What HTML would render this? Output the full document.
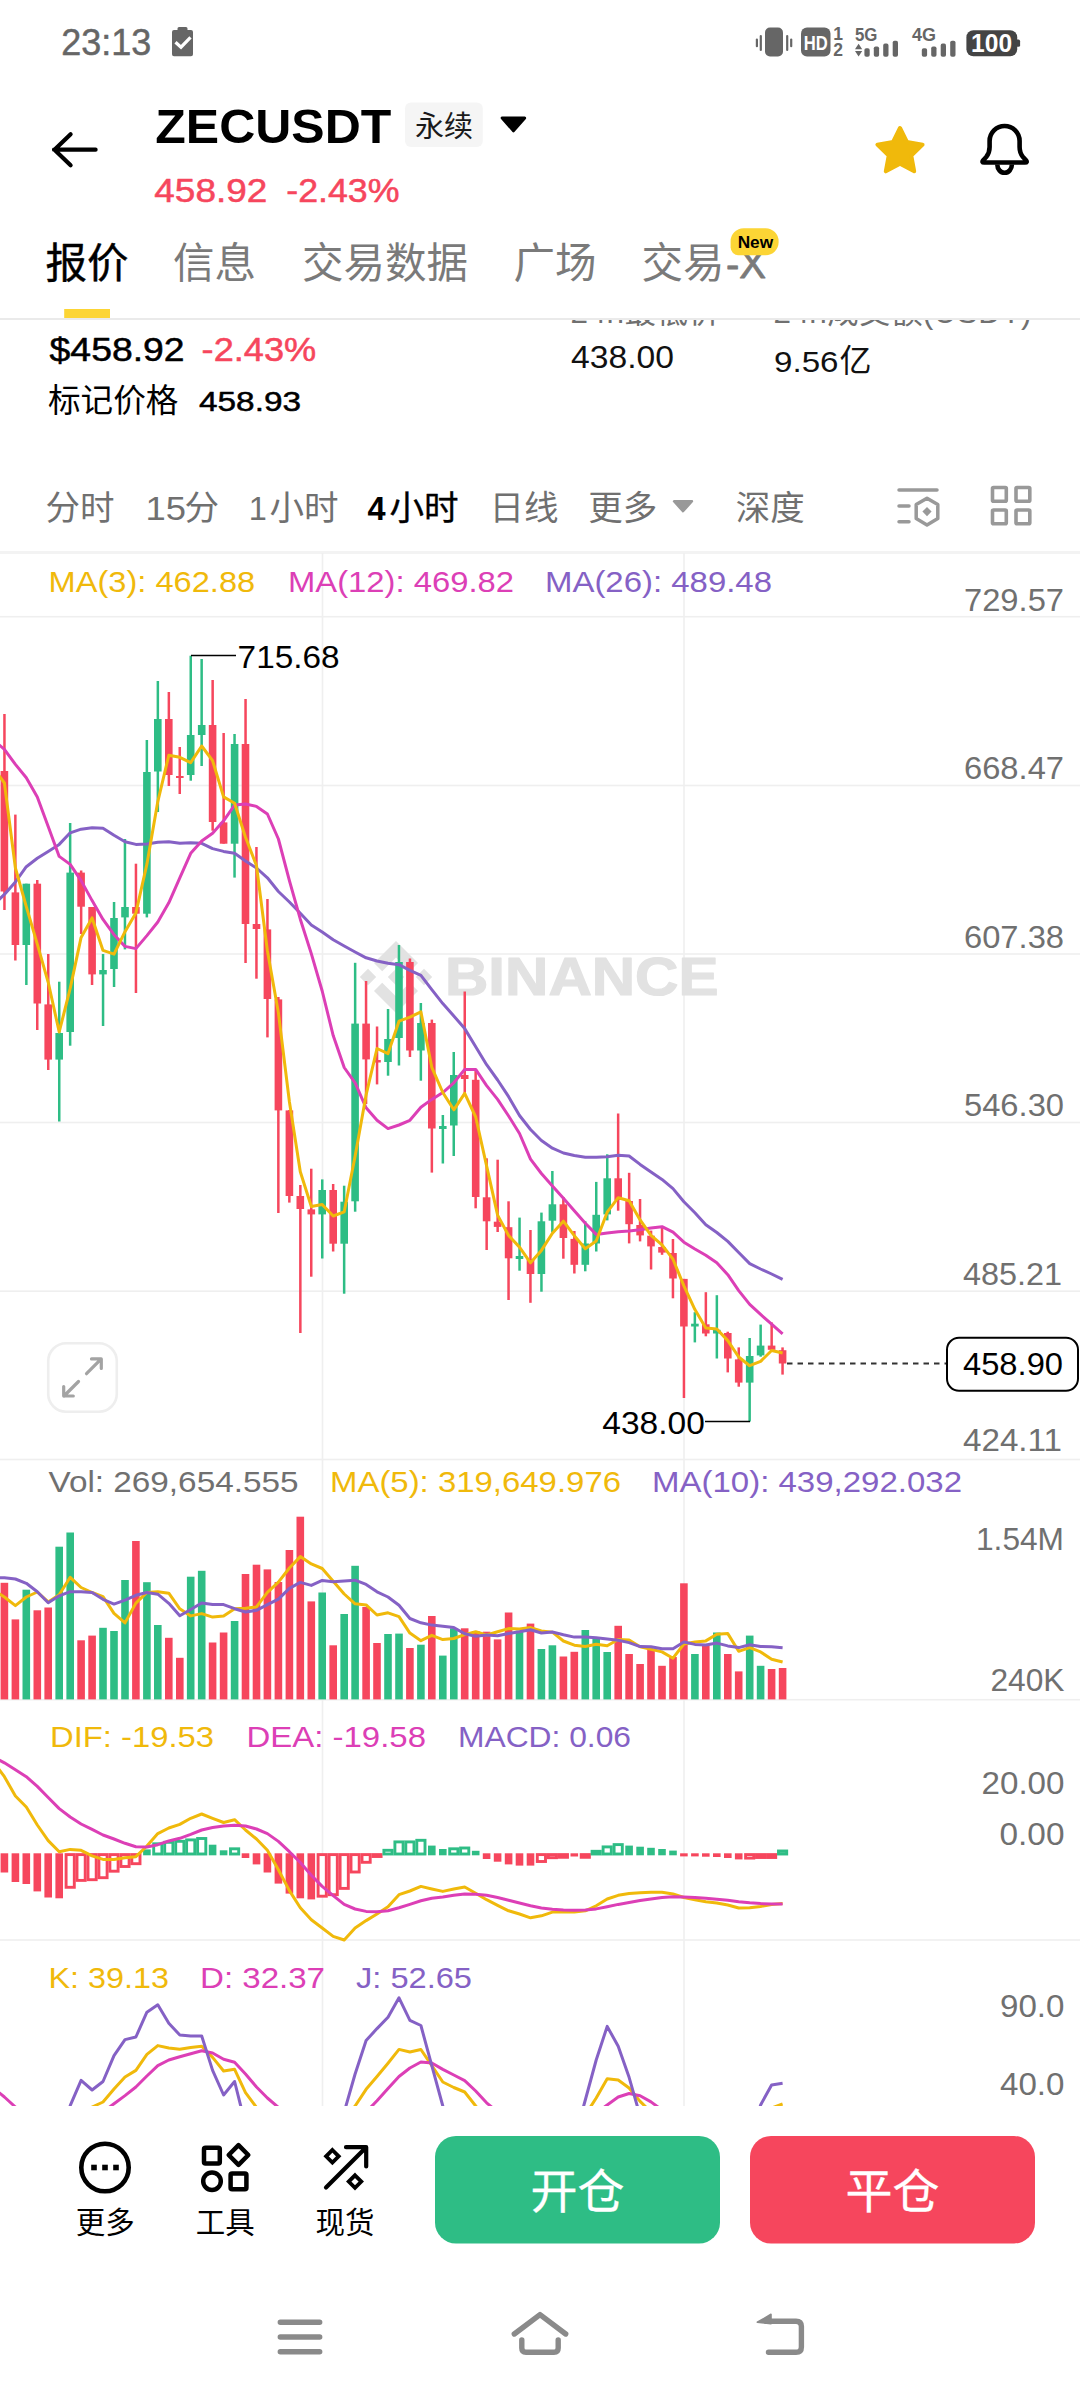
<!DOCTYPE html><html><head><meta charset="utf-8"><title>ZECUSDT</title><style>html,body{margin:0;padding:0;background:#fff}body{width:1080px;height:2400px;overflow:hidden}svg{display:block}text{font-family:"Liberation Sans","Noto Sans CJK SC",sans-serif}</style></head><body>
<svg width="1080" height="2400" viewBox="0 0 1080 2400">
<rect width="1080" height="2400" fill="#fff"/>
<text x="61.3" y="55.4" font-size="37.5" fill="#666" font-weight="400" text-anchor="start" textLength="90" lengthAdjust="spacingAndGlyphs" stroke="#666" stroke-width="0.5" paint-order="stroke" stroke-linejoin="round">23:13</text>
<path d="M172 32 q0-2 2-2 h3.5 v-1.5 q0-1.5 1.5-1.5 h7 q1.5 0 1.5 1.5 v1.5 h3.5 q2 0 2 2 v22.3 q0 2-2 2 h-17 q-2 0-2-2z" fill="#666"/>
<path d="M175.5 42.2 L181 47.2 L190.5 37.4" fill="none" stroke="#fff" stroke-width="3.2"/>
<rect x="765" y="27.5" width="18" height="29" rx="5" fill="#666"/>
<path d="M760.8 36V50" stroke="#666" stroke-width="2.2" stroke-linecap="round"/>
<path d="M756.9 39.6V46.2" stroke="#666" stroke-width="2.2" stroke-linecap="round"/>
<path d="M787.2 36V50" stroke="#666" stroke-width="2.2" stroke-linecap="round"/>
<path d="M791.2 39.6V46.2" stroke="#666" stroke-width="2.2" stroke-linecap="round"/>
<rect x="801" y="27.5" width="29.5" height="29" rx="6" fill="#666"/>
<text x="815.8" y="49.6" font-size="20.5" fill="#fff" font-weight="700" text-anchor="middle" textLength="24" lengthAdjust="spacingAndGlyphs">HD</text>
<text x="838.2" y="40" font-size="17.5" fill="#666" font-weight="700" text-anchor="middle">1</text>
<text x="838.2" y="56.4" font-size="17.5" fill="#666" font-weight="700" text-anchor="middle">2</text>
<text x="855" y="40.8" font-size="17.5" fill="#666" font-weight="700" text-anchor="start" textLength="22.5" lengthAdjust="spacingAndGlyphs">5G</text>
<path d="M855 49.2 l3.6-5.4 l3.6 5.4z M855 51 l3.6 5.4 l3.6-5.4z" fill="#666"/>
<rect x="864.4" y="48.3" width="5.3" height="8.4" rx="1.8" fill="#666"/>
<rect x="873.8" y="46.4" width="5.3" height="10.3" rx="1.8" fill="#666"/>
<rect x="883.2" y="43.6" width="5.3" height="13.1" rx="1.8" fill="#666"/>
<rect x="892.7" y="40.8" width="5.3" height="15.9" rx="1.8" fill="#666"/>
<text x="912" y="40.8" font-size="17.5" fill="#666" font-weight="700" text-anchor="start" textLength="24" lengthAdjust="spacingAndGlyphs">4G</text>
<rect x="921.8" y="48.3" width="5.3" height="8.4" rx="1.8" fill="#666"/>
<rect x="931.2" y="46.4" width="5.3" height="10.3" rx="1.8" fill="#666"/>
<rect x="940.7" y="43.6" width="5.3" height="13.1" rx="1.8" fill="#666"/>
<rect x="950.2" y="40.8" width="5.3" height="15.9" rx="1.8" fill="#666"/>
<rect x="966.4" y="30.3" width="50.8" height="25.9" rx="7" fill="#444"/>
<path d="M1017 39.6 h1.5 q1.6 0 1.6 1.6 v4 q0 1.6-1.6 1.6 h-1.5z" fill="#444"/>
<text x="991.6" y="52.3" font-size="25" fill="#fff" font-weight="700" text-anchor="middle" textLength="41" lengthAdjust="spacingAndGlyphs">100</text>
<path d="M95.6 149.7 H54 M70.6 134.2 L54.5 149.7 L70.6 165.2" fill="none" stroke="#000" stroke-width="4.2" stroke-linecap="round" stroke-linejoin="round"/>
<text x="155.3" y="142.8" font-size="48.5" fill="#000" font-weight="700" text-anchor="start" textLength="236" lengthAdjust="spacingAndGlyphs">ZECUSDT</text>
<rect x="405" y="102.5" width="77.8" height="44.5" rx="6" fill="#f5f5f5"/>
<text x="444" y="137" font-size="29" fill="#1a1a1a" font-weight="400" text-anchor="middle">永续</text>
<path d="M502.2 118 h22.5 l-11.25 12.8z" fill="#000" stroke="#000" stroke-width="3" stroke-linejoin="round"/>
<text x="154.3" y="201.8" font-size="32.5" fill="#F6465D" font-weight="400" text-anchor="start" textLength="113" lengthAdjust="spacingAndGlyphs" stroke="#F6465D" stroke-width="0.5" paint-order="stroke" stroke-linejoin="round">458.92</text>
<text x="286.3" y="201.8" font-size="32.5" fill="#F6465D" font-weight="400" text-anchor="start" textLength="113.2" lengthAdjust="spacingAndGlyphs" stroke="#F6465D" stroke-width="0.5" paint-order="stroke" stroke-linejoin="round">-2.43%</text>
<path d="M900 128 L906.9 142 L922.6 144.6 L911.3 155.6 L914.2 171.3 L900 163.8 L885.8 171.3 L888.7 155.6 L877.4 144.6 L893.1 142Z" fill="#F0B90B" stroke="#F0B90B" stroke-width="4" stroke-linejoin="round"/>
<path d="M989.6 141 A15 15 0 0 1 1019.6 141 L1019.6 147 Q1019.6 153 1023 157 L1026 160.3 Q1027.8 162.5 1025 162.5 L984.2 162.5 Q981.4 162.5 983.2 160.3 L986.2 157 Q989.6 153 989.6 147Z" fill="none" stroke="#000" stroke-width="4.6" stroke-linejoin="round"/>
<path d="M997.3 164.5 A7.3 8.3 0 0 0 1011.9 164.5" fill="none" stroke="#000" stroke-width="4.6"/>
<text x="45.5" y="277.8" font-size="41.5" fill="#000" font-weight="400" text-anchor="start" stroke="#000" stroke-width="0.45" paint-order="stroke" stroke-linejoin="round">报价</text>
<text x="173" y="277.8" font-size="41.5" fill="#7a7a7a" font-weight="400" text-anchor="start">信息</text>
<text x="302" y="277.8" font-size="41.5" fill="#7a7a7a" font-weight="400" text-anchor="start">交易数据</text>
<text x="513.5" y="277.8" font-size="41.5" fill="#7a7a7a" font-weight="400" text-anchor="start">广场</text>
<text x="641.5" y="277.8" font-size="41.5" fill="#7a7a7a" font-weight="400" text-anchor="start">交易</text>
<text x="726" y="278.3" font-size="40" fill="#7a7a7a" font-weight="400" text-anchor="start" textLength="40" lengthAdjust="spacingAndGlyphs" stroke="#7a7a7a" stroke-width="0.8" paint-order="stroke" stroke-linejoin="round">-X</text>
<path d="M743.6 228.3 h22 a13 13 0 0 1 13 13 v1 a13 13 0 0 1 -13 13 h-27 a8 8 0 0 1 -8 -8 v-6 a13 13 0 0 1 13 -13z" fill="#FCD535"/>
<text x="755.4" y="247.8" font-size="17" fill="#000" font-weight="700" text-anchor="middle" textLength="35.5" lengthAdjust="spacingAndGlyphs">New</text>
<rect x="64.2" y="309" width="45.8" height="9" fill="#FCD535"/>
<rect x="0" y="318" width="1080" height="2" fill="#eaeaea"/>
<clipPath id="pc"><rect x="0" y="320" width="1080" height="140"/></clipPath>
<g clip-path="url(#pc)">
<text x="570.5" y="322.6" font-size="31.5" fill="#707070" font-weight="400" text-anchor="start" textLength="149.5" lengthAdjust="spacing">24h最低价</text>
<text x="773.5" y="322.6" font-size="31.5" fill="#707070" font-weight="400" text-anchor="start" textLength="258" lengthAdjust="spacing">24h成交额(USDT)</text>
</g>
<text x="49.6" y="361" font-size="33" fill="#000" font-weight="400" text-anchor="start" textLength="135" lengthAdjust="spacingAndGlyphs" stroke="#000" stroke-width="0.5" paint-order="stroke" stroke-linejoin="round">$458.92</text>
<text x="201.6" y="361" font-size="33" fill="#F6465D" font-weight="400" text-anchor="start" textLength="114.6" lengthAdjust="spacingAndGlyphs" stroke="#F6465D" stroke-width="0.5" paint-order="stroke" stroke-linejoin="round">-2.43%</text>
<text x="48" y="412.2" font-size="32.6" fill="#000" font-weight="400" text-anchor="start">标记价格</text>
<text x="199" y="411" font-size="28.5" fill="#000" font-weight="400" text-anchor="start" textLength="102" lengthAdjust="spacingAndGlyphs" stroke="#000" stroke-width="0.5" paint-order="stroke" stroke-linejoin="round">458.93</text>
<text x="571" y="367.9" font-size="30.5" fill="#111" font-weight="400" text-anchor="start" textLength="103" lengthAdjust="spacingAndGlyphs">438.00</text>
<text x="774" y="372.4" font-size="30" fill="#111" font-weight="400" text-anchor="start" textLength="64.5" lengthAdjust="spacingAndGlyphs">9.56</text>
<text x="839.5" y="372.4" font-size="32" fill="#111" font-weight="400" text-anchor="start">亿</text>
<text x="45.5" y="519.8" font-size="34.5" fill="#707070" font-weight="400" text-anchor="start">分时</text>
<text x="145.6" y="519.8" font-size="32.5" fill="#707070" font-weight="400" text-anchor="start" textLength="40.5" lengthAdjust="spacingAndGlyphs">15</text>
<text x="184.5" y="519.8" font-size="34.5" fill="#707070" font-weight="400" text-anchor="start">分</text>
<text x="248.8" y="519.8" font-size="32.5" fill="#707070" font-weight="400" text-anchor="start">1</text>
<text x="269.5" y="519.8" font-size="34.5" fill="#707070" font-weight="400" text-anchor="start">小时</text>
<text x="367.6" y="519.8" font-size="32.5" fill="#000" font-weight="700" text-anchor="start">4</text>
<text x="389.5" y="519.8" font-size="34.5" fill="#000" font-weight="400" text-anchor="start" stroke="#000" stroke-width="0.35" paint-order="stroke" stroke-linejoin="round">小时</text>
<text x="489.5" y="519.8" font-size="34.5" fill="#707070" font-weight="400" text-anchor="start">日线</text>
<text x="588.3" y="519.8" font-size="34.5" fill="#707070" font-weight="400" text-anchor="start">更多</text>
<path d="M674 501.3 h18 l-9 10z" fill="#999" stroke="#999" stroke-width="2.4" stroke-linejoin="round"/>
<text x="735.7" y="519.8" font-size="34.5" fill="#707070" font-weight="400" text-anchor="start">深度</text>
<path d="M899 490 H937 M899 506 H909 M899 521.7 H909" stroke="#999" stroke-width="3.5" stroke-linecap="round" fill="none"/>
<path d="M927 498.2 L937.8 504.6 V518.6 L927 525 L916.2 518.6 V504.6Z" fill="none" stroke="#999" stroke-width="3.5" stroke-linejoin="round"/>
<path d="M927 507 l4.6 4.6 l-4.6 4.6 l-4.6-4.6z" fill="#999"/>
<rect x="992.5" y="487.5" width="13.8" height="13.8" rx="1" fill="none" stroke="#999" stroke-width="3.6"/>
<rect x="1016" y="487.5" width="13.8" height="13.8" rx="1" fill="none" stroke="#999" stroke-width="3.6"/>
<rect x="992.5" y="510" width="13.8" height="13.8" rx="1" fill="none" stroke="#999" stroke-width="3.6"/>
<rect x="1016" y="510" width="13.8" height="13.8" rx="1" fill="none" stroke="#999" stroke-width="3.6"/>
<g id="chart">
<rect x="0" y="551" width="1080" height="3" fill="#f3f3f3"/>
<rect x="0" y="615.9" width="1080" height="1.6" fill="#efefef"/>
<rect x="0" y="784.7" width="1080" height="1.6" fill="#efefef"/>
<rect x="0" y="953.2" width="1080" height="1.6" fill="#efefef"/>
<rect x="0" y="1121.7" width="1080" height="1.6" fill="#efefef"/>
<rect x="0" y="1290.4" width="1080" height="1.6" fill="#efefef"/>
<rect x="0" y="1458.7" width="1080" height="1.6" fill="#efefef"/>
<rect x="0" y="1698.9" width="1080" height="1.6" fill="#efefef"/>
<rect x="0" y="1939.2" width="1080" height="1.6" fill="#efefef"/>
<rect x="321.7" y="553" width="1.6" height="1553" fill="#efefef"/>
<rect x="683.2" y="553" width="1.6" height="1553" fill="#efefef"/>
<g fill="#e2e2e2" transform="translate(396,977)">
<path d="M0 -8.2 L8.2 0 L0 8.2 L-8.2 0Z"/>
<path d="M-28 -8.2 L-19.8 0 L-28 8.2 L-36.2 0Z"/>
<path d="M28 -8.2 L36.2 0 L28 8.2 L19.8 0Z"/>
<path d="M0 -36 L22 -14 L13.8 -5.8 L0 -19.6 L-13.8 -5.8 L-22 -14Z"/>
<path d="M0 36 L22 14 L13.8 5.8 L0 19.6 L-13.8 5.8 L-22 14Z"/>
</g>
<text x="445" y="995" font-size="54" fill="#e2e2e2" font-weight="700" text-anchor="start" textLength="273.5" lengthAdjust="spacingAndGlyphs" stroke="#e2e2e2" stroke-width="1.2" paint-order="stroke" stroke-linejoin="round">BINANCE</text>
<rect x="3.2" y="714" width="2.5" height="196" fill="#F6465D"/>
<rect x="0.6" y="771" width="7.6" height="120.5" fill="#F6465D"/>
<rect x="14.1" y="814.6" width="2.5" height="145.9" fill="#F6465D"/>
<rect x="11.6" y="892.4" width="7.6" height="52.6" fill="#F6465D"/>
<rect x="25.1" y="883.7" width="2.5" height="101.3" fill="#2EBD85"/>
<rect x="22.5" y="883.7" width="7.6" height="61.3" fill="#2EBD85"/>
<rect x="36" y="880" width="2.5" height="150" fill="#F6465D"/>
<rect x="33.5" y="883.7" width="7.6" height="119.8" fill="#F6465D"/>
<rect x="47" y="954" width="2.5" height="116" fill="#F6465D"/>
<rect x="44.4" y="1004.4" width="7.6" height="55.2" fill="#F6465D"/>
<rect x="58" y="981.7" width="2.5" height="139.8" fill="#2EBD85"/>
<rect x="55.4" y="1033" width="7.6" height="26.6" fill="#2EBD85"/>
<rect x="68.9" y="823" width="2.5" height="222.7" fill="#2EBD85"/>
<rect x="66.4" y="872.6" width="7.6" height="159.4" fill="#2EBD85"/>
<rect x="79.9" y="870.5" width="2.5" height="63.5" fill="#F6465D"/>
<rect x="77.3" y="872.6" width="7.6" height="34.1" fill="#F6465D"/>
<rect x="90.8" y="907" width="2.5" height="78" fill="#F6465D"/>
<rect x="88.3" y="907" width="7.6" height="67.4" fill="#F6465D"/>
<rect x="101.8" y="954" width="2.5" height="72" fill="#2EBD85"/>
<rect x="99.2" y="970" width="7.6" height="4.4" fill="#2EBD85"/>
<rect x="112.8" y="902" width="2.5" height="85" fill="#2EBD85"/>
<rect x="110.2" y="918" width="7.6" height="51" fill="#2EBD85"/>
<rect x="123.7" y="839" width="2.5" height="110.4" fill="#2EBD85"/>
<rect x="121.2" y="907" width="7.6" height="10.4" fill="#2EBD85"/>
<rect x="134.7" y="863.7" width="2.5" height="129.3" fill="#F6465D"/>
<rect x="132.1" y="907" width="7.6" height="6.7" fill="#F6465D"/>
<rect x="145.6" y="740" width="2.5" height="177.4" fill="#2EBD85"/>
<rect x="143.1" y="772" width="7.6" height="141.7" fill="#2EBD85"/>
<rect x="156.6" y="681" width="2.5" height="131" fill="#2EBD85"/>
<rect x="154" y="719" width="7.6" height="52.5" fill="#2EBD85"/>
<rect x="167.6" y="692" width="2.5" height="94" fill="#F6465D"/>
<rect x="165" y="719" width="7.6" height="56" fill="#F6465D"/>
<rect x="178.5" y="747" width="2.5" height="47" fill="#F6465D"/>
<rect x="176" y="776" width="7.6" height="2" fill="#F6465D"/>
<rect x="189.5" y="655.7" width="2.5" height="125" fill="#2EBD85"/>
<rect x="186.9" y="735" width="7.6" height="40" fill="#2EBD85"/>
<rect x="200.4" y="659" width="2.5" height="107" fill="#2EBD85"/>
<rect x="197.9" y="725" width="7.6" height="10" fill="#2EBD85"/>
<rect x="211.4" y="680" width="2.5" height="150.7" fill="#F6465D"/>
<rect x="208.8" y="725" width="7.6" height="97" fill="#F6465D"/>
<rect x="222.4" y="733" width="2.5" height="110.7" fill="#F6465D"/>
<rect x="219.8" y="822.4" width="7.6" height="21.3" fill="#F6465D"/>
<rect x="233.3" y="734" width="2.5" height="143.6" fill="#2EBD85"/>
<rect x="230.8" y="744" width="7.6" height="99.7" fill="#2EBD85"/>
<rect x="244.3" y="699" width="2.5" height="264" fill="#F6465D"/>
<rect x="241.7" y="744" width="7.6" height="180" fill="#F6465D"/>
<rect x="255.2" y="847" width="2.5" height="131.7" fill="#F6465D"/>
<rect x="252.7" y="924" width="7.6" height="5" fill="#F6465D"/>
<rect x="266.2" y="899" width="2.5" height="138.4" fill="#F6465D"/>
<rect x="263.6" y="929.4" width="7.6" height="69.6" fill="#F6465D"/>
<rect x="277.1" y="997" width="2.5" height="216" fill="#F6465D"/>
<rect x="274.6" y="999.4" width="7.6" height="111" fill="#F6465D"/>
<rect x="288.1" y="1110" width="2.5" height="92.6" fill="#F6465D"/>
<rect x="285.6" y="1110.4" width="7.6" height="85.6" fill="#F6465D"/>
<rect x="299.1" y="1185" width="2.5" height="148" fill="#F6465D"/>
<rect x="296.5" y="1196" width="7.6" height="13" fill="#F6465D"/>
<rect x="310" y="1168.7" width="2.5" height="108" fill="#F6465D"/>
<rect x="307.5" y="1209.4" width="7.6" height="5" fill="#F6465D"/>
<rect x="321" y="1179.4" width="2.5" height="79.1" fill="#2EBD85"/>
<rect x="318.4" y="1190" width="7.6" height="24.4" fill="#2EBD85"/>
<rect x="331.9" y="1184" width="2.5" height="67.5" fill="#F6465D"/>
<rect x="329.4" y="1190" width="7.6" height="53.7" fill="#F6465D"/>
<rect x="342.9" y="1185.7" width="2.5" height="108" fill="#2EBD85"/>
<rect x="340.4" y="1201.7" width="7.6" height="42" fill="#2EBD85"/>
<rect x="353.9" y="962.8" width="2.5" height="248.9" fill="#2EBD85"/>
<rect x="351.3" y="1023.6" width="7.6" height="177.7" fill="#2EBD85"/>
<rect x="364.8" y="981" width="2.5" height="123" fill="#F6465D"/>
<rect x="362.3" y="1023.6" width="7.6" height="35.8" fill="#F6465D"/>
<rect x="375.8" y="1026.5" width="2.5" height="57.9" fill="#F6465D"/>
<rect x="373.2" y="1060" width="7.6" height="2.5" fill="#F6465D"/>
<rect x="386.8" y="1009" width="2.5" height="66.7" fill="#2EBD85"/>
<rect x="384.2" y="1039" width="7.6" height="23" fill="#2EBD85"/>
<rect x="397.7" y="945" width="2.5" height="120.5" fill="#2EBD85"/>
<rect x="395.2" y="962" width="7.6" height="76" fill="#2EBD85"/>
<rect x="408.7" y="958.5" width="2.5" height="98.5" fill="#F6465D"/>
<rect x="406.1" y="962" width="7.6" height="88.5" fill="#F6465D"/>
<rect x="419.6" y="1003" width="2.5" height="77.7" fill="#2EBD85"/>
<rect x="417.1" y="1023" width="7.6" height="27.5" fill="#2EBD85"/>
<rect x="430.6" y="1019.6" width="2.5" height="153" fill="#F6465D"/>
<rect x="428" y="1023" width="7.6" height="105.5" fill="#F6465D"/>
<rect x="441.6" y="1115" width="2.5" height="48.5" fill="#2EBD85"/>
<rect x="439" y="1126" width="7.6" height="3" fill="#2EBD85"/>
<rect x="452.5" y="1052" width="2.5" height="104" fill="#2EBD85"/>
<rect x="450" y="1075" width="7.6" height="50.5" fill="#2EBD85"/>
<rect x="463.5" y="991.5" width="2.5" height="102.2" fill="#F6465D"/>
<rect x="460.9" y="1075" width="7.6" height="4" fill="#F6465D"/>
<rect x="474.4" y="1069.6" width="2.5" height="138.7" fill="#F6465D"/>
<rect x="471.9" y="1079.8" width="7.6" height="117.2" fill="#F6465D"/>
<rect x="485.4" y="1158.3" width="2.5" height="91.7" fill="#F6465D"/>
<rect x="482.8" y="1197.3" width="7.6" height="24" fill="#F6465D"/>
<rect x="496.4" y="1159.7" width="2.5" height="72.3" fill="#F6465D"/>
<rect x="493.8" y="1221.7" width="7.6" height="5.2" fill="#F6465D"/>
<rect x="507.3" y="1201.3" width="2.5" height="98.7" fill="#F6465D"/>
<rect x="504.8" y="1227.2" width="7.6" height="31.1" fill="#F6465D"/>
<rect x="518.3" y="1217.6" width="2.5" height="53.1" fill="#2EBD85"/>
<rect x="515.7" y="1256" width="7.6" height="3" fill="#2EBD85"/>
<rect x="529.2" y="1230" width="2.5" height="72.8" fill="#F6465D"/>
<rect x="526.7" y="1259" width="7.6" height="15" fill="#F6465D"/>
<rect x="540.2" y="1212.6" width="2.5" height="79.1" fill="#2EBD85"/>
<rect x="537.6" y="1221.3" width="7.6" height="52.7" fill="#2EBD85"/>
<rect x="551.1" y="1171" width="2.5" height="61.4" fill="#2EBD85"/>
<rect x="548.6" y="1204.3" width="7.6" height="16.4" fill="#2EBD85"/>
<rect x="562.1" y="1197" width="2.5" height="61.7" fill="#F6465D"/>
<rect x="559.6" y="1204.3" width="7.6" height="33.7" fill="#F6465D"/>
<rect x="573.1" y="1231" width="2.5" height="42.5" fill="#F6465D"/>
<rect x="570.5" y="1238.9" width="7.6" height="25.9" fill="#F6465D"/>
<rect x="584" y="1221.3" width="2.5" height="50" fill="#2EBD85"/>
<rect x="581.5" y="1243.5" width="7.6" height="21.3" fill="#2EBD85"/>
<rect x="595" y="1181.9" width="2.5" height="69.6" fill="#2EBD85"/>
<rect x="592.4" y="1214.8" width="7.6" height="28.7" fill="#2EBD85"/>
<rect x="606" y="1154.3" width="2.5" height="66.1" fill="#2EBD85"/>
<rect x="603.4" y="1178.3" width="7.6" height="36.1" fill="#2EBD85"/>
<rect x="616.9" y="1113.5" width="2.5" height="97.2" fill="#F6465D"/>
<rect x="614.4" y="1178.3" width="7.6" height="21.7" fill="#F6465D"/>
<rect x="627.9" y="1172.8" width="2.5" height="70.6" fill="#F6465D"/>
<rect x="625.3" y="1201" width="7.6" height="23.2" fill="#F6465D"/>
<rect x="638.8" y="1199" width="2.5" height="42.4" fill="#F6465D"/>
<rect x="636.3" y="1225" width="7.6" height="10.4" fill="#F6465D"/>
<rect x="649.8" y="1230.6" width="2.5" height="38.9" fill="#F6465D"/>
<rect x="647.2" y="1235.7" width="7.6" height="10.7" fill="#F6465D"/>
<rect x="660.8" y="1228" width="2.5" height="26.8" fill="#F6465D"/>
<rect x="658.2" y="1247" width="7.6" height="5.6" fill="#F6465D"/>
<rect x="671.7" y="1239" width="2.5" height="59.3" fill="#F6465D"/>
<rect x="669.2" y="1253" width="7.6" height="25.5" fill="#F6465D"/>
<rect x="682.7" y="1278.9" width="2.5" height="119.1" fill="#F6465D"/>
<rect x="680.1" y="1278.9" width="7.6" height="47.6" fill="#F6465D"/>
<rect x="693.6" y="1312.2" width="2.5" height="30.2" fill="#2EBD85"/>
<rect x="691.1" y="1323.7" width="7.6" height="2.8" fill="#2EBD85"/>
<rect x="704.6" y="1292.2" width="2.5" height="44.1" fill="#F6465D"/>
<rect x="702" y="1324.3" width="7.6" height="9.2" fill="#F6465D"/>
<rect x="715.6" y="1295.2" width="2.5" height="63.3" fill="#2EBD85"/>
<rect x="713" y="1329.8" width="7.6" height="3.7" fill="#2EBD85"/>
<rect x="726.5" y="1331.7" width="2.5" height="40.7" fill="#F6465D"/>
<rect x="724" y="1333" width="7.6" height="25.5" fill="#F6465D"/>
<rect x="737.5" y="1347.4" width="2.5" height="39.3" fill="#F6465D"/>
<rect x="734.9" y="1359.4" width="7.6" height="23.2" fill="#F6465D"/>
<rect x="748.4" y="1338" width="2.5" height="83.5" fill="#2EBD85"/>
<rect x="745.9" y="1356" width="7.6" height="26.6" fill="#2EBD85"/>
<rect x="759.4" y="1324.6" width="2.5" height="32.1" fill="#2EBD85"/>
<rect x="756.8" y="1345.6" width="7.6" height="9.8" fill="#2EBD85"/>
<rect x="770.4" y="1322.4" width="2.5" height="27.4" fill="#F6465D"/>
<rect x="767.8" y="1345.6" width="7.6" height="4.2" fill="#F6465D"/>
<rect x="781.3" y="1347.4" width="2.5" height="27.2" fill="#F6465D"/>
<rect x="778.8" y="1350.2" width="7.6" height="13.3" fill="#F6465D"/>
<polyline fill="none" stroke="#8561C5" stroke-width="3" stroke-linejoin="round" stroke-linecap="butt" points="-6.6,905 4.4,894.4 15.4,882 26.3,866.7 37.3,858.3 48.2,851.4 59.2,844.4 70.2,832.8 81.1,829.2 92.1,827.8 103,828.3 114,835.3 125,841.7 135.9,844.4 146.9,843.9 157.8,842.2 168.8,841.7 179.8,843.3 190.7,842.8 201.7,843.3 212.6,848.6 223.6,851.4 234.6,853.3 245.5,861 256.5,868 267.4,877.8 278.4,891.5 289.4,902 300.3,913.3 311.3,925 322.2,932 333.2,939.7 344.2,946 355.1,952 366.1,957.8 377,961 388,963.3 399,964.7 409.9,970.3 420.9,975.3 431.8,989.7 442.8,1003.6 453.8,1016 464.7,1028.6 475.7,1046.7 486.6,1064.7 497.6,1080 508.6,1096.7 519.5,1115.5 530.5,1129.5 541.4,1140.5 552.4,1148.2 563.4,1153 574.3,1155.5 585.3,1157.2 596.2,1157.2 607.2,1156.7 618.2,1155.3 629.1,1156 640.1,1164.4 651,1172 662,1179.4 673,1188.6 683.9,1201.7 694.9,1212.8 705.8,1224.7 716.8,1232.5 727.8,1241.4 738.7,1252.5 749.7,1263.6 760.6,1269 771.6,1274 782.6,1279.4"/>
<polyline fill="none" stroke="#DC3FB6" stroke-width="3" stroke-linejoin="round" stroke-linecap="butt" points="-6.6,740 4.4,749.4 15.4,764.4 26.3,777.8 37.3,797 48.2,826.4 59.2,856.4 70.2,864.4 81.1,880.6 92.1,900.6 103,919.4 114,934.7 125,946.4 135.9,948.6 146.9,935.6 157.8,922 168.8,902.8 179.8,877.8 190.7,853.3 201.7,841 212.6,833.3 223.6,820.8 234.6,805 245.5,804 256.5,806.4 267.4,814 278.4,839 289.4,880.6 300.3,919.2 311.3,953.6 322.2,991 333.2,1035.6 344.2,1067.5 355.1,1082.8 366.1,1107.8 377,1120.3 388,1128.6 399,1125 409.9,1120.3 420.9,1107.2 431.8,1099.4 442.8,1092.5 453.8,1082.8 464.7,1069.4 475.7,1069.4 486.6,1085.6 497.6,1099.4 508.6,1116 519.5,1133.5 530.5,1159.2 541.4,1173.5 552.4,1186 563.4,1198.3 574.3,1210.8 585.3,1223.3 596.2,1234.4 607.2,1233 618.2,1231.7 629.1,1231 640.1,1229.7 651,1228 662,1226.7 673,1232.2 683.9,1242.2 694.9,1249 705.8,1255.3 716.8,1262.8 727.8,1274.7 738.7,1290.6 749.7,1304.4 760.6,1314.4 771.6,1324.2 782.6,1333.9"/>
<polyline fill="none" stroke="#F0B90B" stroke-width="3" stroke-linejoin="round" stroke-linecap="butt" points="-6.6,768 4.4,783 15.4,868 26.3,906.7 37.3,944.1 48.2,982.3 59.2,1032 70.2,988.4 81.1,937.4 92.1,917.9 103,950.4 114,954.1 125,931.7 135.9,912.9 146.9,864.2 157.8,801.6 168.8,755.3 179.8,757.3 190.7,762.7 201.7,746 212.6,760.7 223.6,796.9 234.6,803.2 245.5,837.2 256.5,865.7 267.4,950.7 278.4,1012.8 289.4,1101.8 300.3,1171.8 311.3,1206.5 322.2,1204.5 333.2,1216 344.2,1211.8 355.1,1156.3 366.1,1094.9 377,1048.5 388,1053.6 399,1021.2 409.9,1017.2 420.9,1011.8 431.8,1067.3 442.8,1092.5 453.8,1109.8 464.7,1093.3 475.7,1117 486.6,1165.8 497.6,1215.1 508.6,1235.5 519.5,1247.1 530.5,1262.8 541.4,1250.4 552.4,1233.2 563.4,1221.2 574.3,1235.7 585.3,1248.8 596.2,1241 607.2,1212.2 618.2,1197.7 629.1,1200.8 640.1,1219.9 651,1235.3 662,1244.8 673,1259.2 683.9,1285.9 694.9,1309.6 705.8,1327.9 716.8,1329 727.8,1340.6 738.7,1357 749.7,1365.7 760.6,1361.4 771.6,1350.5 782.6,1353"/>
<text x="1064" y="610.8" font-size="30.5" fill="#707070" font-weight="400" text-anchor="end" textLength="100" lengthAdjust="spacingAndGlyphs">729.57</text>
<text x="1064" y="779.3" font-size="30.5" fill="#707070" font-weight="400" text-anchor="end" textLength="100" lengthAdjust="spacingAndGlyphs">668.47</text>
<text x="1064" y="947.8" font-size="30.5" fill="#707070" font-weight="400" text-anchor="end" textLength="100" lengthAdjust="spacingAndGlyphs">607.38</text>
<text x="1064" y="1116.3" font-size="30.5" fill="#707070" font-weight="400" text-anchor="end" textLength="100" lengthAdjust="spacingAndGlyphs">546.30</text>
<text x="1062" y="1284.8" font-size="30.5" fill="#707070" font-weight="400" text-anchor="end" textLength="99" lengthAdjust="spacingAndGlyphs">485.21</text>
<text x="1062" y="1450.5" font-size="30.5" fill="#707070" font-weight="400" text-anchor="end" textLength="99" lengthAdjust="spacingAndGlyphs">424.11</text>
<path d="M191 655.5 H236" stroke="#000" stroke-width="1.6"/>
<text x="237.6" y="667.5" font-size="30.5" fill="#000" font-weight="400" text-anchor="start" textLength="102" lengthAdjust="spacingAndGlyphs">715.68</text>
<path d="M705 1421.5 H750" stroke="#000" stroke-width="1.6"/>
<text x="704.8" y="1433.5" font-size="30.5" fill="#000" font-weight="400" text-anchor="end" textLength="102.5" lengthAdjust="spacingAndGlyphs">438.00</text>
<path d="M787 1363.5 H946" stroke="#333" stroke-width="2" stroke-dasharray="5.5 5"/>
<rect x="947" y="1337.7" width="131" height="53" rx="12" fill="#fff" stroke="#000" stroke-width="2"/>
<text x="963" y="1375.3" font-size="30.5" fill="#000" font-weight="400" text-anchor="start" textLength="100" lengthAdjust="spacingAndGlyphs">458.90</text>
<rect x="48.2" y="1343.2" width="68.6" height="68.6" rx="18" fill="#fff" stroke="#eeeeee" stroke-width="2.6"/>
<path d="M86.5 1373.7 L101 1359.2 M91.5 1358.9 H101.3 V1368.5 M78.5 1381.5 L64 1396 M63.7 1386.5 V1396 H73.3" fill="none" stroke="#a3a3a3" stroke-width="3.2" stroke-linecap="round" stroke-linejoin="round"/>
<text x="48.5" y="592.2" font-size="30" fill="#F0B90B" font-weight="400" text-anchor="start" textLength="206.7" lengthAdjust="spacingAndGlyphs">MA(3): 462.88</text>
<text x="288" y="592.2" font-size="30" fill="#DC3FB6" font-weight="400" text-anchor="start" textLength="226" lengthAdjust="spacingAndGlyphs">MA(12): 469.82</text>
<text x="545" y="592.2" font-size="30" fill="#8561C5" font-weight="400" text-anchor="start" textLength="227" lengthAdjust="spacingAndGlyphs">MA(26): 489.48</text>
</g>
<g id="vol">
<rect x="0.6" y="1582.8" width="7.6" height="116.6" fill="#F6465D"/>
<rect x="11.6" y="1619.4" width="7.6" height="80" fill="#F6465D"/>
<rect x="22.5" y="1589.7" width="7.6" height="109.7" fill="#2EBD85"/>
<rect x="33.5" y="1610.3" width="7.6" height="89.1" fill="#F6465D"/>
<rect x="44.4" y="1607.5" width="7.6" height="91.9" fill="#F6465D"/>
<rect x="55.4" y="1546.7" width="7.6" height="152.7" fill="#2EBD85"/>
<rect x="66.4" y="1532.5" width="7.6" height="166.9" fill="#2EBD85"/>
<rect x="77.3" y="1640.3" width="7.6" height="59.1" fill="#F6465D"/>
<rect x="88.3" y="1635.6" width="7.6" height="63.8" fill="#F6465D"/>
<rect x="99.2" y="1627.8" width="7.6" height="71.6" fill="#2EBD85"/>
<rect x="110.2" y="1631" width="7.6" height="68.4" fill="#2EBD85"/>
<rect x="121.2" y="1580" width="7.6" height="119.4" fill="#2EBD85"/>
<rect x="132.1" y="1541" width="7.6" height="158.4" fill="#F6465D"/>
<rect x="143.1" y="1582.2" width="7.6" height="117.2" fill="#2EBD85"/>
<rect x="154" y="1625" width="7.6" height="74.4" fill="#2EBD85"/>
<rect x="165" y="1637.8" width="7.6" height="61.6" fill="#F6465D"/>
<rect x="176" y="1657.8" width="7.6" height="41.6" fill="#F6465D"/>
<rect x="186.9" y="1576.7" width="7.6" height="122.7" fill="#2EBD85"/>
<rect x="197.9" y="1570.8" width="7.6" height="128.6" fill="#2EBD85"/>
<rect x="208.8" y="1642.5" width="7.6" height="56.9" fill="#F6465D"/>
<rect x="219.8" y="1632.5" width="7.6" height="66.9" fill="#F6465D"/>
<rect x="230.8" y="1621" width="7.6" height="78.4" fill="#2EBD85"/>
<rect x="241.7" y="1574" width="7.6" height="125.4" fill="#F6465D"/>
<rect x="252.7" y="1564.7" width="7.6" height="134.7" fill="#F6465D"/>
<rect x="263.6" y="1569.4" width="7.6" height="130" fill="#F6465D"/>
<rect x="274.6" y="1582" width="7.6" height="117.4" fill="#F6465D"/>
<rect x="285.6" y="1550" width="7.6" height="149.4" fill="#F6465D"/>
<rect x="296.5" y="1516.7" width="7.6" height="182.7" fill="#F6465D"/>
<rect x="307.5" y="1601.4" width="7.6" height="98" fill="#F6465D"/>
<rect x="318.4" y="1592.5" width="7.6" height="106.9" fill="#2EBD85"/>
<rect x="329.4" y="1645.3" width="7.6" height="54.1" fill="#F6465D"/>
<rect x="340.4" y="1614" width="7.6" height="85.4" fill="#2EBD85"/>
<rect x="351.3" y="1565.8" width="7.6" height="133.6" fill="#2EBD85"/>
<rect x="362.3" y="1607" width="7.6" height="92.4" fill="#F6465D"/>
<rect x="373.2" y="1643" width="7.6" height="56.4" fill="#F6465D"/>
<rect x="384.2" y="1634" width="7.6" height="65.4" fill="#2EBD85"/>
<rect x="395.2" y="1633.6" width="7.6" height="65.8" fill="#2EBD85"/>
<rect x="406.1" y="1648" width="7.6" height="51.4" fill="#F6465D"/>
<rect x="417.1" y="1644.7" width="7.6" height="54.7" fill="#2EBD85"/>
<rect x="428" y="1616" width="7.6" height="83.4" fill="#F6465D"/>
<rect x="439" y="1655.6" width="7.6" height="43.8" fill="#2EBD85"/>
<rect x="450" y="1628.3" width="7.6" height="71.1" fill="#2EBD85"/>
<rect x="460.9" y="1628.3" width="7.6" height="71.1" fill="#F6465D"/>
<rect x="471.9" y="1631" width="7.6" height="68.4" fill="#F6465D"/>
<rect x="482.8" y="1631.7" width="7.6" height="67.7" fill="#F6465D"/>
<rect x="493.8" y="1639.4" width="7.6" height="60" fill="#F6465D"/>
<rect x="504.8" y="1612.5" width="7.6" height="86.9" fill="#F6465D"/>
<rect x="515.7" y="1630.6" width="7.6" height="68.8" fill="#2EBD85"/>
<rect x="526.7" y="1623.6" width="7.6" height="75.8" fill="#F6465D"/>
<rect x="537.6" y="1649" width="7.6" height="50.4" fill="#2EBD85"/>
<rect x="548.6" y="1645.3" width="7.6" height="54.1" fill="#2EBD85"/>
<rect x="559.6" y="1656.5" width="7.6" height="42.9" fill="#F6465D"/>
<rect x="570.5" y="1651.8" width="7.6" height="47.6" fill="#F6465D"/>
<rect x="581.5" y="1630" width="7.6" height="69.4" fill="#2EBD85"/>
<rect x="592.4" y="1638" width="7.6" height="61.4" fill="#2EBD85"/>
<rect x="603.4" y="1652" width="7.6" height="47.4" fill="#2EBD85"/>
<rect x="614.4" y="1625.8" width="7.6" height="73.6" fill="#F6465D"/>
<rect x="625.3" y="1654" width="7.6" height="45.4" fill="#F6465D"/>
<rect x="636.3" y="1664" width="7.6" height="35.4" fill="#F6465D"/>
<rect x="647.2" y="1650" width="7.6" height="49.4" fill="#F6465D"/>
<rect x="658.2" y="1665.8" width="7.6" height="33.6" fill="#F6465D"/>
<rect x="669.2" y="1657" width="7.6" height="42.4" fill="#F6465D"/>
<rect x="680.1" y="1583.3" width="7.6" height="116.1" fill="#F6465D"/>
<rect x="691.1" y="1654" width="7.6" height="45.4" fill="#2EBD85"/>
<rect x="702" y="1644.4" width="7.6" height="55" fill="#F6465D"/>
<rect x="713" y="1632.5" width="7.6" height="66.9" fill="#2EBD85"/>
<rect x="724" y="1654" width="7.6" height="45.4" fill="#F6465D"/>
<rect x="734.9" y="1671.4" width="7.6" height="28" fill="#F6465D"/>
<rect x="745.9" y="1635.6" width="7.6" height="63.8" fill="#2EBD85"/>
<rect x="756.8" y="1665.8" width="7.6" height="33.6" fill="#2EBD85"/>
<rect x="767.8" y="1669" width="7.6" height="30.4" fill="#F6465D"/>
<rect x="778.8" y="1668" width="7.6" height="31.4" fill="#F6465D"/>
<polyline fill="none" stroke="#F0B90B" stroke-width="3" stroke-linejoin="round" stroke-linecap="butt" points="-6.6,1590 4.4,1597 15.4,1605.6 26.3,1597 37.3,1592 48.2,1601.9 59.2,1594.7 70.2,1577.3 81.1,1587.5 92.1,1592.5 103,1596.6 114,1613.4 125,1622.9 135.9,1603.1 146.9,1592.4 157.8,1591.8 168.8,1593.2 179.8,1608.8 190.7,1615.9 201.7,1613.6 212.6,1617.1 223.6,1616.1 234.6,1608.7 245.5,1608.2 256.5,1606.9 267.4,1592.3 278.4,1582.2 289.4,1568 300.3,1556.6 311.3,1563.9 322.2,1568.5 333.2,1581.2 344.2,1594 355.1,1603.8 366.1,1604.9 377,1615 388,1612.8 399,1616.7 409.9,1633.1 420.9,1640.7 431.8,1635.3 442.8,1639.6 453.8,1638.5 464.7,1634.6 475.7,1631.8 486.6,1635 497.6,1631.7 508.6,1628.6 519.5,1629 530.5,1627.6 541.4,1631 552.4,1632.2 563.4,1641 574.3,1645.2 585.3,1646.5 596.2,1644.3 607.2,1645.7 618.2,1639.5 629.1,1640 640.1,1646.8 651,1649.2 662,1651.9 673,1658.2 683.9,1644 694.9,1642 705.8,1640.9 716.8,1634.2 727.8,1633.6 738.7,1651.3 749.7,1647.6 760.6,1651.9 771.6,1659.2 782.6,1662"/>
<polyline fill="none" stroke="#8561C5" stroke-width="3" stroke-linejoin="round" stroke-linecap="butt" points="-6.6,1577.5 4.4,1577.8 15.4,1579 26.3,1583.3 37.3,1591.7 48.2,1602.8 59.2,1595.8 70.2,1591.7 81.1,1591.7 92.1,1592.5 103,1599.3 114,1604.1 125,1600.1 135.9,1595.3 146.9,1592.5 157.8,1594.2 168.8,1603.3 179.8,1615.8 190.7,1609.5 201.7,1603 212.6,1604.5 223.6,1604.6 234.6,1608.7 245.5,1612 256.5,1610.3 267.4,1604.7 278.4,1599.1 289.4,1588.4 300.3,1582.4 311.3,1585.4 322.2,1580.4 333.2,1581.7 344.2,1581 355.1,1580.2 366.1,1584.4 377,1591.8 388,1597 399,1605.3 409.9,1618.5 420.9,1622.8 431.8,1625.1 442.8,1626.2 453.8,1627.6 464.7,1633.8 475.7,1636.2 486.6,1635.1 497.6,1635.7 508.6,1633.5 519.5,1631.8 530.5,1629.7 541.4,1633 552.4,1632 563.4,1634.8 574.3,1637.1 585.3,1637 596.2,1637.7 607.2,1638.9 618.2,1640.3 629.1,1642.6 640.1,1646.6 651,1646.7 662,1648.8 673,1648.8 683.9,1642 694.9,1644.4 705.8,1645 716.8,1643.1 727.8,1645.9 738.7,1647.6 749.7,1644.8 760.6,1646.4 771.6,1646.7 782.6,1647.8"/>
</g>
<g id="macd">
<rect x="0.6" y="1853.3" width="7.6" height="19.2" fill="#F6465D"/>
<rect x="11.6" y="1853.3" width="7.6" height="28.7" fill="#F6465D"/>
<rect x="22.5" y="1853.3" width="7.6" height="30.7" fill="#F6465D"/>
<rect x="33.5" y="1853.3" width="7.6" height="38.1" fill="#F6465D"/>
<rect x="44.4" y="1853.3" width="7.6" height="44.2" fill="#F6465D"/>
<rect x="55.4" y="1853.3" width="7.6" height="45" fill="#F6465D"/>
<rect x="66.1" y="1854.6" width="8.2" height="32.7" fill="#fff" stroke="#F6465D" stroke-width="2.9"/>
<rect x="77" y="1854.6" width="8.2" height="25.8" fill="#fff" stroke="#F6465D" stroke-width="2.9"/>
<rect x="88" y="1854.6" width="8.2" height="25.1" fill="#fff" stroke="#F6465D" stroke-width="2.9"/>
<rect x="98.9" y="1854.6" width="8.2" height="23.1" fill="#fff" stroke="#F6465D" stroke-width="2.9"/>
<rect x="109.9" y="1854.6" width="8.2" height="16.6" fill="#fff" stroke="#F6465D" stroke-width="2.9"/>
<rect x="120.9" y="1854.6" width="8.2" height="11.9" fill="#fff" stroke="#F6465D" stroke-width="2.9"/>
<rect x="131.8" y="1854.6" width="8.2" height="9.1" fill="#fff" stroke="#F6465D" stroke-width="2.9"/>
<rect x="143.1" y="1849.4" width="7.6" height="5.9" fill="#2EBD85"/>
<rect x="153.7" y="1843.8" width="8.2" height="10.2" fill="#fff" stroke="#2EBD85" stroke-width="2.9"/>
<rect x="164.7" y="1842.3" width="8.2" height="11.7" fill="#fff" stroke="#2EBD85" stroke-width="2.9"/>
<rect x="175.7" y="1841.3" width="8.2" height="12.7" fill="#fff" stroke="#2EBD85" stroke-width="2.9"/>
<rect x="186.6" y="1839.9" width="8.2" height="14.1" fill="#fff" stroke="#2EBD85" stroke-width="2.9"/>
<rect x="197.6" y="1838.5" width="8.2" height="15.5" fill="#fff" stroke="#2EBD85" stroke-width="2.9"/>
<rect x="208.8" y="1844.7" width="7.6" height="10.6" fill="#2EBD85"/>
<rect x="219.8" y="1850.3" width="7.6" height="5" fill="#2EBD85"/>
<rect x="230.5" y="1848.8" width="8.2" height="5.2" fill="#fff" stroke="#2EBD85" stroke-width="2.9"/>
<rect x="241.7" y="1853.3" width="7.6" height="4.7" fill="#F6465D"/>
<rect x="252.7" y="1853.3" width="7.6" height="11.1" fill="#F6465D"/>
<rect x="263.6" y="1853.3" width="7.6" height="19.2" fill="#F6465D"/>
<rect x="274.6" y="1853.3" width="7.6" height="30.3" fill="#F6465D"/>
<rect x="285.6" y="1853.3" width="7.6" height="40.3" fill="#F6465D"/>
<rect x="296.5" y="1853.3" width="7.6" height="45" fill="#F6465D"/>
<rect x="307.5" y="1853.3" width="7.6" height="46.1" fill="#F6465D"/>
<rect x="318.1" y="1854.6" width="8.2" height="41.6" fill="#fff" stroke="#F6465D" stroke-width="2.9"/>
<rect x="329.1" y="1854.6" width="8.2" height="40.1" fill="#fff" stroke="#F6465D" stroke-width="2.9"/>
<rect x="340.1" y="1854.6" width="8.2" height="33.8" fill="#fff" stroke="#F6465D" stroke-width="2.9"/>
<rect x="351" y="1854.6" width="8.2" height="17.4" fill="#fff" stroke="#F6465D" stroke-width="2.9"/>
<rect x="362" y="1854.6" width="8.2" height="7.7" fill="#fff" stroke="#F6465D" stroke-width="2.9"/>
<rect x="372.9" y="1854.6" width="8.2" height="1.9" fill="#fff" stroke="#F6465D" stroke-width="2.9"/>
<rect x="383.9" y="1850.3" width="8.2" height="3.7" fill="#fff" stroke="#2EBD85" stroke-width="2.9"/>
<rect x="394.9" y="1841.9" width="8.2" height="12.1" fill="#fff" stroke="#2EBD85" stroke-width="2.9"/>
<rect x="405.8" y="1841.9" width="8.2" height="12.1" fill="#fff" stroke="#2EBD85" stroke-width="2.9"/>
<rect x="416.8" y="1840.3" width="8.2" height="13.7" fill="#fff" stroke="#2EBD85" stroke-width="2.9"/>
<rect x="428" y="1845.6" width="7.6" height="9.7" fill="#2EBD85"/>
<rect x="439" y="1849" width="7.6" height="6.3" fill="#2EBD85"/>
<rect x="449.7" y="1848.8" width="8.2" height="5.2" fill="#fff" stroke="#2EBD85" stroke-width="2.9"/>
<rect x="460.6" y="1848" width="8.2" height="6" fill="#fff" stroke="#2EBD85" stroke-width="2.9"/>
<rect x="471.9" y="1850.8" width="7.6" height="4.5" fill="#2EBD85"/>
<rect x="482.8" y="1853.3" width="7.6" height="5.7" fill="#F6465D"/>
<rect x="493.8" y="1853.3" width="7.6" height="8.4" fill="#F6465D"/>
<rect x="504.8" y="1853.3" width="7.6" height="11.1" fill="#F6465D"/>
<rect x="515.7" y="1853.3" width="7.6" height="12.3" fill="#F6465D"/>
<rect x="526.7" y="1853.3" width="7.6" height="12.3" fill="#F6465D"/>
<rect x="537.3" y="1854.6" width="8.2" height="6.9" fill="#fff" stroke="#F6465D" stroke-width="2.9"/>
<rect x="548.3" y="1854.6" width="8.2" height="3.1" fill="#fff" stroke="#F6465D" stroke-width="2.9"/>
<rect x="559.3" y="1854.6" width="8.2" height="2.7" fill="#fff" stroke="#F6465D" stroke-width="2.9"/>
<rect x="570.5" y="1853.3" width="7.6" height="3.2" fill="#F6465D"/>
<rect x="581.2" y="1854.6" width="8.2" height="2.7" fill="#fff" stroke="#F6465D" stroke-width="2.9"/>
<rect x="592.1" y="1851.3" width="8.2" height="2.7" fill="#fff" stroke="#2EBD85" stroke-width="2.9"/>
<rect x="603.1" y="1846.9" width="8.2" height="7.1" fill="#fff" stroke="#2EBD85" stroke-width="2.9"/>
<rect x="614.1" y="1844.6" width="8.2" height="9.4" fill="#fff" stroke="#2EBD85" stroke-width="2.9"/>
<rect x="625.3" y="1845.6" width="7.6" height="9.7" fill="#2EBD85"/>
<rect x="636.3" y="1846.7" width="7.6" height="8.6" fill="#2EBD85"/>
<rect x="647.2" y="1847.8" width="7.6" height="7.5" fill="#2EBD85"/>
<rect x="658.2" y="1849" width="7.6" height="6.3" fill="#2EBD85"/>
<rect x="669.2" y="1850.6" width="7.6" height="4.7" fill="#2EBD85"/>
<rect x="680.1" y="1853.3" width="7.6" height="3.1" fill="#F6465D"/>
<rect x="691.1" y="1853.3" width="7.6" height="3.1" fill="#F6465D"/>
<rect x="702" y="1853.3" width="7.6" height="3.4" fill="#F6465D"/>
<rect x="713" y="1853.3" width="7.6" height="3.7" fill="#F6465D"/>
<rect x="724" y="1853.3" width="7.6" height="4.7" fill="#F6465D"/>
<rect x="734.9" y="1853.3" width="7.6" height="6.1" fill="#F6465D"/>
<rect x="745.6" y="1854.6" width="8.2" height="3.5" fill="#fff" stroke="#F6465D" stroke-width="2.9"/>
<rect x="756.5" y="1854.6" width="8.2" height="2.9" fill="#fff" stroke="#F6465D" stroke-width="2.9"/>
<rect x="767.5" y="1854.6" width="8.2" height="2.9" fill="#fff" stroke="#F6465D" stroke-width="2.9"/>
<rect x="778.5" y="1851" width="8.2" height="3" fill="#fff" stroke="#2EBD85" stroke-width="2.9"/>
<polyline fill="none" stroke="#F0B90B" stroke-width="3" stroke-linejoin="round" stroke-linecap="butt" points="-6.6,1762 4.4,1776.7 15.4,1796 26.3,1807 37.3,1825 48.2,1840.6 59.2,1851.7 70.2,1849.4 81.1,1850.3 92.1,1855.8 103,1859.4 114,1859.4 125,1857.8 135.9,1856.7 146.9,1846 157.8,1833.6 168.8,1828 179.8,1824.4 190.7,1818.3 201.7,1814 212.6,1818.3 223.6,1822.5 234.6,1819.7 245.5,1830 256.5,1839 267.4,1850.3 278.4,1869.7 289.4,1890.6 300.3,1907.8 311.3,1919.7 322.2,1928 333.2,1936.4 344.2,1940 355.1,1928 366.1,1920.6 377,1914 388,1906.7 399,1894.7 409.9,1891 420.9,1886.4 431.8,1889 442.8,1891.4 453.8,1889 464.7,1887 475.7,1893.3 486.6,1899.7 497.6,1905.3 508.6,1910.8 519.5,1914 530.5,1917.8 541.4,1915.8 552.4,1912.1 563.4,1911.7 574.3,1912.1 585.3,1910.8 596.2,1905.8 607.2,1899 618.2,1895.3 629.1,1893.6 640.1,1892.8 651,1892.2 662,1892.2 673,1894 683.9,1897.5 694.9,1899.7 705.8,1901.7 716.8,1903 727.8,1905 738.7,1908 749.7,1907.8 760.6,1906.4 771.6,1904.4 782.6,1903.6"/>
<polyline fill="none" stroke="#DC3FB6" stroke-width="3" stroke-linejoin="round" stroke-linecap="butt" points="-6.6,1757 4.4,1762.8 15.4,1769.7 26.3,1776.7 37.3,1786.4 48.2,1797.5 59.2,1808.6 70.2,1817 81.1,1824 92.1,1829.4 103,1835 114,1839 125,1843.3 135.9,1846.7 146.9,1847 157.8,1844.7 168.8,1841 179.8,1838.3 190.7,1834.4 201.7,1830 212.6,1827.5 223.6,1826 234.6,1825.3 245.5,1826 256.5,1829 267.4,1833.6 278.4,1841.4 289.4,1851.7 300.3,1862.5 311.3,1875.3 322.2,1886.4 333.2,1895.6 344.2,1904.4 355.1,1909 366.1,1911.4 377,1911.7 388,1910.8 399,1907.8 409.9,1904.4 420.9,1900.8 431.8,1898.3 442.8,1897 453.8,1895.3 464.7,1894 475.7,1894.2 486.6,1895.3 497.6,1897.5 508.6,1900.3 519.5,1903 530.5,1905.8 541.4,1908 552.4,1909.3 563.4,1910 574.3,1910.3 585.3,1910 596.2,1908.9 607.2,1906.7 618.2,1904.4 629.1,1902.5 640.1,1900.6 651,1899 662,1897.5 673,1896.7 683.9,1897 694.9,1897.5 705.8,1898.3 716.8,1899.2 727.8,1900.3 738.7,1901.7 749.7,1902.8 760.6,1903.6 771.6,1904 782.6,1904"/>
</g>
<clipPath id="kc"><rect x="0" y="1941" width="1080" height="165"/></clipPath>
<g id="kdj" clip-path="url(#kc)">
<polyline fill="none" stroke="#F0B90B" stroke-width="3" stroke-linejoin="round" stroke-linecap="butt" points="4.4,2135 15.4,2135 26.3,2135 37.3,2135 48.2,2135 59.2,2135 70.2,2135 81.1,2112 92.1,2107 103,2102 114,2089 125,2077 135.9,2070.4 146.9,2054.4 157.8,2045.6 168.8,2048 179.8,2049.3 190.7,2047.4 201.7,2046.3 212.6,2057.4 223.6,2071 234.6,2069.3 245.5,2092.6 256.5,2107.4 267.4,2118 278.4,2135 289.4,2135 300.3,2135 311.3,2135 322.2,2135 333.2,2135 344.2,2120 355.1,2106 366.1,2089.3 377,2076.5 388,2063.2 399,2049.4 409.9,2052 420.9,2049.5 431.8,2065.7 442.8,2082 453.8,2087.5 464.7,2092 475.7,2106 486.6,2118 497.6,2135 508.6,2135 519.5,2135 530.5,2135 541.4,2135 552.4,2135 563.4,2135 574.3,2135 585.3,2115 596.2,2098 607.2,2078.7 618.2,2080 629.1,2088 640.1,2101.4 651,2112 662,2135 673,2135 683.9,2135 694.9,2135 705.8,2135 716.8,2135 727.8,2135 738.7,2135 749.7,2135 760.6,2118 771.6,2108 782.6,2104"/>
<polyline fill="none" stroke="#DC3FB6" stroke-width="3" stroke-linejoin="round" stroke-linecap="butt" points="-6.6,2088 4.4,2097 15.4,2107 26.3,2116 37.3,2130 48.2,2130 59.2,2130 70.2,2130 81.1,2130 92.1,2130 103,2112 114,2103.7 125,2095.6 135.9,2087 146.9,2076 157.8,2065.6 168.8,2060 179.8,2056.7 190.7,2053.7 201.7,2050.7 212.6,2053 223.6,2059.3 234.6,2062.2 245.5,2074 256.5,2087 267.4,2098 278.4,2107.4 289.4,2116 300.3,2130 311.3,2130 322.2,2130 333.2,2130 344.2,2130 355.1,2130 366.1,2112 377,2100.8 388,2088.5 399,2076.5 409.9,2068 420.9,2062 431.8,2063 442.8,2069.4 453.8,2075 464.7,2080.6 475.7,2091 486.6,2102.8 497.6,2112 508.6,2130 519.5,2130 530.5,2130 541.4,2130 552.4,2130 563.4,2130 574.3,2130 585.3,2130 596.2,2113 607.2,2105 618.2,2097 629.1,2093.5 640.1,2095.8 651,2101.9 662,2110 673,2118 683.9,2130 694.9,2130 705.8,2130 716.8,2130 727.8,2130 738.7,2130 749.7,2130 760.6,2130 771.6,2130 782.6,2130"/>
<polyline fill="none" stroke="#8561C5" stroke-width="3" stroke-linejoin="round" stroke-linecap="butt" points="4.4,2130 15.4,2150 26.3,2150 37.3,2150 48.2,2150 59.2,2150 70.2,2105.6 81.1,2080.4 92.1,2090 103,2081.5 114,2055.6 125,2039.6 135.9,2037 146.9,2012.2 157.8,2004.8 168.8,2023.3 179.8,2035 190.7,2036 201.7,2036 212.6,2070.4 223.6,2095 234.6,2081.5 245.5,2125 256.5,2150 267.4,2150 278.4,2150 289.4,2150 300.3,2150 311.3,2150 322.2,2150 333.2,2150 344.2,2112 355.1,2074 366.1,2040.5 377,2028.6 388,2017.2 399,1997.8 409.9,2020.4 420.9,2025.5 431.8,2065.7 442.8,2106 453.8,2150 464.7,2150 475.7,2150 486.6,2150 497.6,2150 508.6,2150 519.5,2150 530.5,2150 541.4,2150 552.4,2150 563.4,2150 574.3,2140 585.3,2100 596.2,2060 607.2,2026.4 618.2,2046.3 629.1,2077.3 640.1,2116 651,2150 662,2150 673,2150 683.9,2150 694.9,2150 705.8,2150 716.8,2150 727.8,2150 738.7,2150 749.7,2140 760.6,2105 771.6,2085 782.6,2083.3"/>
</g>
<text x="48.5" y="1492" font-size="29.5" fill="#707070" font-weight="400" text-anchor="start" textLength="250" lengthAdjust="spacingAndGlyphs">Vol: 269,654.555</text>
<text x="330" y="1492" font-size="29.5" fill="#F0B90B" font-weight="400" text-anchor="start" textLength="291" lengthAdjust="spacingAndGlyphs">MA(5): 319,649.976</text>
<text x="652" y="1492" font-size="29.5" fill="#8561C5" font-weight="400" text-anchor="start" textLength="310" lengthAdjust="spacingAndGlyphs">MA(10): 439,292.032</text>
<text x="1064" y="1549.5" font-size="30.5" fill="#707070" font-weight="400" text-anchor="end" textLength="88" lengthAdjust="spacingAndGlyphs">1.54M</text>
<text x="1064.5" y="1690.5" font-size="30.5" fill="#707070" font-weight="400" text-anchor="end" textLength="74" lengthAdjust="spacingAndGlyphs">240K</text>
<text x="50" y="1747.3" font-size="29.5" fill="#F0B90B" font-weight="400" text-anchor="start" textLength="164" lengthAdjust="spacingAndGlyphs">DIF: -19.53</text>
<text x="246.5" y="1747.3" font-size="29.5" fill="#DC3FB6" font-weight="400" text-anchor="start" textLength="179.5" lengthAdjust="spacingAndGlyphs">DEA: -19.58</text>
<text x="458" y="1747.3" font-size="29.5" fill="#8561C5" font-weight="400" text-anchor="start" textLength="173" lengthAdjust="spacingAndGlyphs">MACD: 0.06</text>
<text x="1064.5" y="1793.5" font-size="30.5" fill="#707070" font-weight="400" text-anchor="end" textLength="83" lengthAdjust="spacingAndGlyphs">20.00</text>
<text x="1064.5" y="1844.5" font-size="30.5" fill="#707070" font-weight="400" text-anchor="end" textLength="65" lengthAdjust="spacingAndGlyphs">0.00</text>
<text x="48.5" y="1987.5" font-size="29.5" fill="#F0B90B" font-weight="400" text-anchor="start" textLength="120.5" lengthAdjust="spacingAndGlyphs">K: 39.13</text>
<text x="200" y="1987.5" font-size="29.5" fill="#DC3FB6" font-weight="400" text-anchor="start" textLength="125" lengthAdjust="spacingAndGlyphs">D: 32.37</text>
<text x="356" y="1987.5" font-size="29.5" fill="#8561C5" font-weight="400" text-anchor="start" textLength="116" lengthAdjust="spacingAndGlyphs">J: 52.65</text>
<text x="1064.5" y="2016.5" font-size="30.5" fill="#707070" font-weight="400" text-anchor="end" textLength="64.5" lengthAdjust="spacingAndGlyphs">90.0</text>
<text x="1064.5" y="2094.7" font-size="30.5" fill="#707070" font-weight="400" text-anchor="end" textLength="64.5" lengthAdjust="spacingAndGlyphs">40.0</text>
<rect x="0" y="2106" width="1080" height="294" fill="#fff"/>
<circle cx="105" cy="2167.5" r="23.7" fill="none" stroke="#000" stroke-width="4.6"/>
<rect x="91.2" y="2164.7" width="5.6" height="5.6" fill="#000"/>
<rect x="102.2" y="2164.7" width="5.6" height="5.6" fill="#000"/>
<rect x="113.2" y="2164.7" width="5.6" height="5.6" fill="#000"/>
<text x="105.2" y="2233" font-size="29.5" fill="#000" font-weight="400" text-anchor="middle">更多</text>
<rect x="204" y="2147.7" width="15.8" height="15.8" rx="1.5" fill="none" stroke="#000" stroke-width="4.5"/>
<path d="M238.5 2145.2 l9.8 9.8 l-9.8 9.8 l-9.8-9.8z" fill="none" stroke="#000" stroke-width="4.5" stroke-linejoin="round"/>
<circle cx="212" cy="2181.2" r="8.8" fill="none" stroke="#000" stroke-width="4.5"/>
<rect x="230.6" y="2173.5" width="15.8" height="15.8" rx="1.5" fill="none" stroke="#000" stroke-width="4.5"/>
<text x="225.3" y="2233" font-size="29.5" fill="#000" font-weight="400" text-anchor="middle">工具</text>
<path d="M326 2187.5 L365.5 2148 M346 2147.2 H366.2 V2166.5" fill="none" stroke="#000" stroke-width="4.2" stroke-linecap="round" stroke-linejoin="round"/>
<path d="M332.4 2150 l6.3 6.3 l-6.3 6.3 l-6.3-6.3z M355 2175.3 l6.3 6.3 l-6.3 6.3 l-6.3-6.3z" fill="none" stroke="#000" stroke-width="3.8" stroke-linejoin="miter"/>
<text x="345" y="2233" font-size="29.5" fill="#000" font-weight="400" text-anchor="middle">现货</text>
<rect x="435" y="2136" width="285" height="107.5" rx="21" fill="#2EBD85"/>
<rect x="750" y="2136" width="285" height="107.5" rx="21" fill="#F6465D"/>
<text x="577.5" y="2207.5" font-size="47" fill="#fff" font-weight="400" text-anchor="middle" stroke="#fff" stroke-width="0.3" paint-order="stroke" stroke-linejoin="round">开仓</text>
<text x="892.5" y="2207.5" font-size="47" fill="#fff" font-weight="400" text-anchor="middle" stroke="#fff" stroke-width="0.3" paint-order="stroke" stroke-linejoin="round">平仓</text>
<path d="M280.3 2322.2 H319.7 M280.3 2337 H319.7 M280.3 2351.7 H319.7" stroke="#8a8a8a" stroke-width="5.4" stroke-linecap="round"/>
<path d="M514.3 2334 L540 2314.6 L565.7 2334 M521.8 2340 V2348 Q521.8 2352.2 526 2352.2 H554 Q558.2 2352.2 558.2 2348 V2340" fill="none" stroke="#8a8a8a" stroke-width="5.4" stroke-linecap="round" stroke-linejoin="round"/>
<path d="M766 2321.2 H796 Q801.4 2321.2 801.4 2326.6 V2347 Q801.4 2352.3 796 2352.3 H768.5" fill="none" stroke="#8a8a8a" stroke-width="5.4" stroke-linecap="round" stroke-linejoin="round"/>
<path d="M757.3 2322.3 L771 2314.3 V2323.8Z" fill="#8a8a8a" stroke="#8a8a8a" stroke-width="1.6" stroke-linejoin="round"/>
</svg></body></html>
